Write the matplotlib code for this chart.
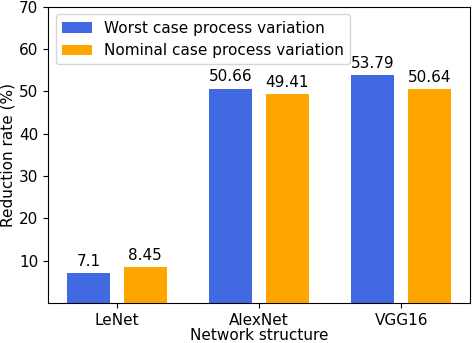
import matplotlib
matplotlib.use("Agg")
import matplotlib.pyplot as plt
import numpy as np

networks = ["LeNet", "AlexNet", "VGG16"]
worst = [7.1, 50.66, 53.79]
nominal = [8.45, 49.41, 50.64]
worst_labels = ["7.1", "50.66", "53.79"]
nominal_labels = ["8.45", "49.41", "50.64"]

FS = 11

fig, ax = plt.subplots(figsize=(4.74, 3.43), dpi=100)
x = np.arange(len(networks))
w = 0.3
b1 = ax.bar(x - 0.2, worst, w, color="royalblue", label="Worst case process variation")
b2 = ax.bar(x + 0.2, nominal, w, color="orange", label="Nominal case process variation")
ax.bar_label(b1, labels=worst_labels, padding=3, fontsize=FS)
ax.bar_label(b2, labels=nominal_labels, padding=3, fontsize=FS)

ax.set_ylim(0, 70)
ax.set_yticks(range(10, 71, 10))
ax.set_xticks(x)
ax.set_xticklabels(networks)
ax.tick_params(labelsize=FS)
ax.set_xlabel("Network structure", fontsize=FS, labelpad=0)
ax.set_ylabel("Reduction rate (%)", fontsize=FS, labelpad=2)
ax.legend(loc="upper left", fontsize=FS)

fig.subplots_adjust(left=0.101, right=0.992, top=0.98, bottom=0.117)
fig.savefig("out.png")
